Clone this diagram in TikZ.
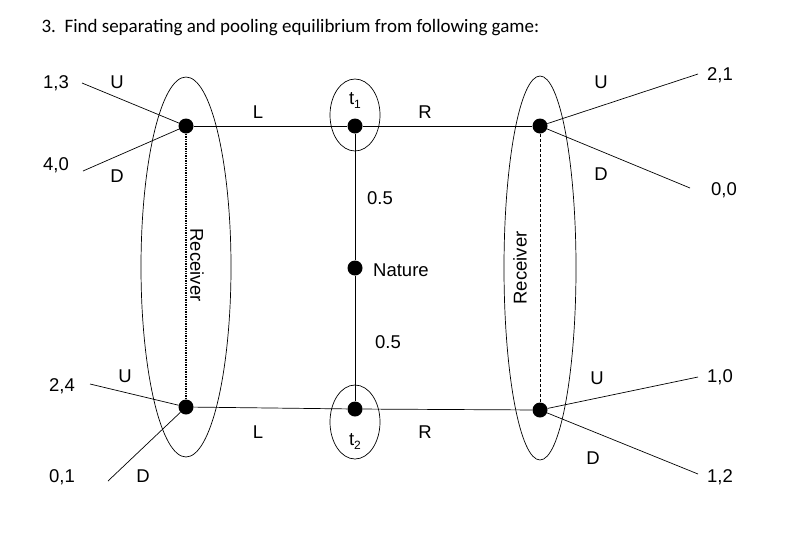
\documentclass[tikz,border=0pt]{standalone}
\usepackage{fontspec}
\setmainfont{Liberation Sans}
\newfontfamily\titlefont{Carlito}
\newcommand{\subidx}[1]{\raisebox{-4pt}{\fontsize{12}{13}\selectfont #1}}
\begin{document}
\begin{tikzpicture}[x=1pt,y=-1pt,
  dot/.style={circle,fill=black,inner sep=0pt,minimum size=15pt},
  lbl/.style={font=\fontsize{18.5}{20}\selectfont,inner sep=1pt},
  ln/.style={line width=0.7pt}]
\useasboundingbox (0,0) rectangle (797,544);
\node[anchor=west,font=\titlefont\fontsize{19}{21}\selectfont] (title) at (38,28) {3.\ \ Find separating and pooling equilibrium from following game:};
% nodes
\node[dot] (lt) at (186,126) {};
\node[dot] (lb) at (186,407) {};
\node[dot] (ct) at (355,126) {};
\node[dot] (na) at (355,268) {};
\node[dot] (cb) at (355,409) {};
\node[dot] (rt) at (540,126) {};
\node[dot] (rb) at (540,410) {};
% ellipses
\draw[ln] (186,267) ellipse (45 and 190);
\draw[ln] (540,268) ellipse (36 and 192);
\draw[ln] (355,115) ellipse (25 and 36);
\draw[ln] (355,422) ellipse (25 and 37);
% edges
\draw[ln] (lt) -- (ct) -- (rt);
\draw[ln] (lb) -- (cb) -- (rb);
\draw[ln] (ct) -- (na) -- (cb);
\draw[densely dotted, line width=1.4pt] (lt) -- (lb);
\draw[densely dashed, line width=0.8pt] (rt) -- (rb);
% payoff ends
\coordinate (p1) at (82,83);
\coordinate (p2) at (83,171);
\coordinate (p3) at (90,384);
\coordinate (p4) at (108,481);
\coordinate (p5) at (698,74);
\coordinate (p6) at (690,188);
\coordinate (p7) at (698,377);
\coordinate (p8) at (698,474);
\draw[ln] (lt) -- (p1); \draw[ln] (lt) -- (p2);
\draw[ln] (lb) -- (p3); \draw[ln] (lb) -- (p4);
\draw[ln] (rt) -- (p5); \draw[ln] (rt) -- (p6);
\draw[ln] (rb) -- (p7); \draw[ln] (rb) -- (p8);
% labels
\node[lbl] (a1) at (56,83) {1,3}; \node[lbl] (u1) at (117,82) {U};
\node[lbl] (a2) at (56,165) {4,0}; \node[lbl] (d1) at (117,176) {D};
\node[lbl] (a3) at (62,386) {2,4}; \node[lbl] (u2) at (125,376) {U};
\node[lbl] (a4) at (62,477) {0,1}; \node[lbl] (d2) at (143,476) {D};
\node[lbl] (b1) at (720,75) {2,1}; \node[lbl] (u3) at (601,82) {U};
\node[lbl] (b2) at (724,190) {0,0}; \node[lbl] (d3) at (601,174) {D};
\node[lbl] (b3) at (720,377) {1,0}; \node[lbl] (u4) at (597,378) {U};
\node[lbl] (b4) at (720,477) {1,2}; \node[lbl] (d4) at (593,458) {D};
\node[lbl] (l1) at (258,112) {L}; \node[lbl] (r1) at (425,112) {R};
\node[lbl] (l2) at (258,432) {L}; \node[lbl] (r2) at (425,432) {R};
\node[lbl] (t1) at (355,101) {t\subidx{1}};
\node[lbl] (t2) at (355,442) {t\subidx{2}};
\node[lbl] (h1) at (380,198) {0.5};
\node[lbl] (h2) at (388,342) {0.5};
\node[lbl,anchor=west] (nat) at (372,270) {Nature};
\node[lbl,rotate=-90] (rec1) at (197,265) {Receiver};
\node[lbl,rotate=90] (rec2) at (520,268) {Receiver};
\end{tikzpicture}
\end{document}
